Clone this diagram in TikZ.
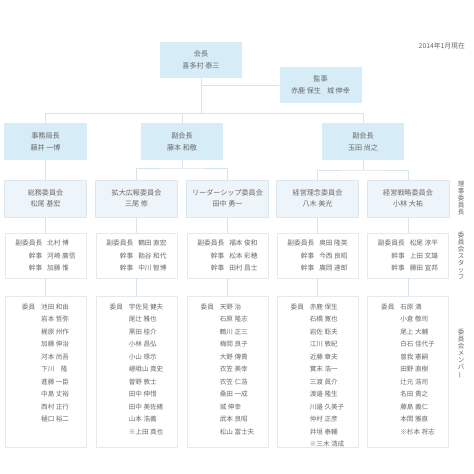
\documentclass[tikz,border=0pt]{standalone}
\usepackage{fontspec}
\setmainfont{Noto Sans CJK JP}
\usepackage{graphicx}
\definecolor{txt}{HTML}{6A6A6A}
\definecolor{lineC}{HTML}{D6E4EC}
\definecolor{topfill}{HTML}{D6ECF7}
\definecolor{chairfill}{HTML}{EDF5FA}
\definecolor{chairline}{HTML}{DAE8F0}
\definecolor{boxline}{HTML}{E4EAED}
\newcommand{\vbar}{\rotatebox[origin=c]{90}{ー}}
\begin{document}
\begin{tikzpicture}[x=1bp,y=-1bp,
  every node/.style={text=txt},
  topbox/.style={fill=topfill, minimum width=82bp, minimum height=36bp, inner sep=0pt, align=center, font=\fontsize{7.1bp}{12bp}\selectfont},
  chairbox/.style={fill=chairfill, draw=chairline, line width=0.5bp, minimum width=82bp, minimum height=37bp, inner sep=0pt, align=center, font=\fontsize{7.1bp}{11.5bp}\selectfont},
  staffbox/.style={fill=white, draw=boxline, line width=0.5bp, minimum width=81bp, minimum height=45bp, inner sep=0pt, font=\fontsize{6.7bp}{12.5bp}\selectfont},
  memberbox/.style={fill=white, draw=boxline, line width=0.5bp, minimum width=81bp, minimum height=151bp, inner sep=0pt},
  membertext/.style={anchor=north, inner sep=0pt, font=\fontsize{6.6bp}{12.5bp}\selectfont},
  sidelabel/.style={inner sep=0pt, align=center, font=\fontsize{6.5bp}{7bp}\selectfont},
  conn/.style={draw=lineC, line width=0.6bp},
]
\useasboundingbox (0,0) rectangle (474,474);
\fill[white] (0,0) rectangle (474,474);

% top level
\node[topbox] (pres) at (201,60) {会長\\喜多村 泰三};
\node[topbox] (aud) at (320.5,85) {監事\\赤鹿 保生\hspace{6bp}城 伸幸};
\node[anchor=east, inner sep=0pt, font=\fontsize{6.8bp}{8bp}\selectfont] (date) at (465,46) {2014年1月現在};

% second level
\node[topbox, minimum height=37bp] (r1) at (45.5,141.5) {事務局長\\藤井 一博};
\node[topbox, minimum height=37bp] (r2) at (182,141.5) {副会長\\藤本 和敬};
\node[topbox, minimum height=37bp] (r3) at (363,141.5) {副会長\\玉田 尚之};

% committees
\node[chairbox] (c1) at (45.5,198.5) {総務委員会\\松尾 基宏};
\node[chairbox] (c2) at (136.5,198.5) {拡大広報委員会\\三尾 修};
\node[chairbox] (c3) at (227.5,198.5) {リーダーシップ委員会\\田中 勇一};
\node[chairbox] (c4) at (317.5,198.5) {経営理念委員会\\八木 美光};
\node[chairbox] (c5) at (408,198.5) {経営戦略委員会\\小林 大祐};

% staff
\node[staffbox] (s1) at (45.5,255.5) {\begin{tabular}{@{}r@{\hspace{5bp}}l@{}}副委員長 & 北村 博\\ 幹事 & 河崎 廣信\\ 幹事 & 加藤 惟\end{tabular}};
\node[staffbox] (s2) at (136.5,255.5) {\begin{tabular}{@{}r@{\hspace{5bp}}l@{}}副委員長 & 鶴田 直宏\\ 幹事 & 飴谷 和代\\ 幹事 & 中川 智博\end{tabular}};
\node[staffbox] (s3) at (227.5,255.5) {\begin{tabular}{@{}r@{\hspace{5bp}}l@{}}副委員長 & 福本 俊和\\ 幹事 & 松本 彩穂\\ 幹事 & 田村 昌士\end{tabular}};
\node[staffbox] (s4) at (317.5,255.5) {\begin{tabular}{@{}r@{\hspace{5bp}}l@{}}副委員長 & 奥田 隆英\\ 幹事 & 今西 良昭\\ 幹事 & 廣岡 達郎\end{tabular}};
\node[staffbox] (s5) at (408,255.5) {\begin{tabular}{@{}r@{\hspace{5bp}}l@{}}副委員長 & 松尾 淳平\\ 幹事 & 上田 文雄\\ 幹事 & 藤田 宣邦\end{tabular}};

% members
\node[memberbox] (m1) at (45.5,371.5) {};
\node[memberbox] (m2) at (136.5,371.5) {};
\node[memberbox] (m3) at (227.5,371.5) {};
\node[memberbox] (m4) at (317.5,371.5) {};
\node[memberbox] (m5) at (408,371.5) {};

\node[membertext, yshift=-4.5bp] (mt1) at (m1.north) {\begin{tabular}{@{}r@{\hspace{6bp}}l@{}}委員 & 池田 和由\\ & 岩本 哲弥\\ & 梶原 州作\\ & 加藤 伸治\\ & 河本 尚吾\\ & 下川　隆\\ & 進藤 一臣\\ & 中島 丈裕\\ & 西村 正行\\ & 樋口 裕二\end{tabular}};
\node[membertext, yshift=-4.5bp] (mt2) at (m2.north) {\begin{tabular}{@{}r@{\hspace{6bp}}l@{}}委員 & 宇佐見 健夫\\ & 尾辻 雅也\\ & 黒田 桂介\\ & 小林 昌弘\\ & 小山 琢示\\ & 嵯峨山 真史\\ & 曽野 敦士\\ & 田中 伸惜\\ & 田中 美佐緒\\ & 山本 浩義\\ & ※上田 真也\end{tabular}};
\node[membertext, yshift=-4.5bp] (mt3) at (m3.north) {\begin{tabular}{@{}r@{\hspace{6bp}}l@{}}委員 & 天野 治\\ & 石原 隆志\\ & 鶴川 正三\\ & 梅岡 良子\\ & 大野 傳貴\\ & 衣笠 美幸\\ & 衣笠 仁浩\\ & 桑田 一成\\ & 城 伸幸\\ & 武本 良昭\\ & 松山 富士夫\end{tabular}};
\node[membertext, yshift=-4.5bp] (mt4) at (m4.north) {\begin{tabular}{@{}r@{\hspace{6bp}}l@{}}委員 & 赤鹿 保生\\ & 石橋 寛也\\ & 岩佐 聡夫\\ & 江川 敦紀\\ & 近藤 章夫\\ & 實末 浩一\\ & 三渡 眞介\\ & 渡邉 隆生\\ & 川邉 久美子\\ & 仲村 正彦\\ & 井垣 泰輔\\ & ※三木 清成\end{tabular}};
\node[membertext, yshift=-4.5bp] (mt5) at (m5.north) {\begin{tabular}{@{}r@{\hspace{6bp}}l@{}}委員 & 石原 満\\ & 小倉 敬司\\ & 尾上 大輔\\ & 白石 佳代子\\ & 曽我 憲嗣\\ & 田野 直樹\\ & 辻元 浩司\\ & 名田 貴之\\ & 藤島 義仁\\ & 本間 雅直\\ & ※杉本 将志\end{tabular}};

% side labels
\node[sidelabel] (v1) at (461,198) {理\\事\\委\\員\\長};
\node[sidelabel] (v2) at (461,256) {委\\員\\会\\ス\\タ\\ッ\\フ};
\node[sidelabel] (v3) at (461,354) {委\\員\\会\\メ\\ン\\バ\\\vbar};

% connectors
\coordinate (hub) at (201,113);
\coordinate (hubA) at (182,168);
\coordinate (hubB) at (363,170);
\draw[conn] (pres.south) -- (hub);
\draw[conn] (pres.south |- aud.west) -- (aud.west);
\draw[conn] (r1.north) -- (r1.north |- hub) -- (r3.north |- hub) -- (r3.north);
\draw[conn] (r2.north) -- (r2.north |- hub);
\draw[conn] (r1.south) -- (c1.north);
\draw[conn] (r2.south) -- (hubA);
\draw[conn] (c2.north) |- (hubA) -| (c3.north);
\draw[conn] (r3.south) -- (hubB);
\draw[conn] (c4.north) |- (hubB) -| (c5.north);
\foreach \i in {1,...,5} {
  \draw[conn] (c\i.south) -- (s\i.north);
  \draw[conn] (s\i.south) -- (m\i.north);
}
\end{tikzpicture}
\end{document}
